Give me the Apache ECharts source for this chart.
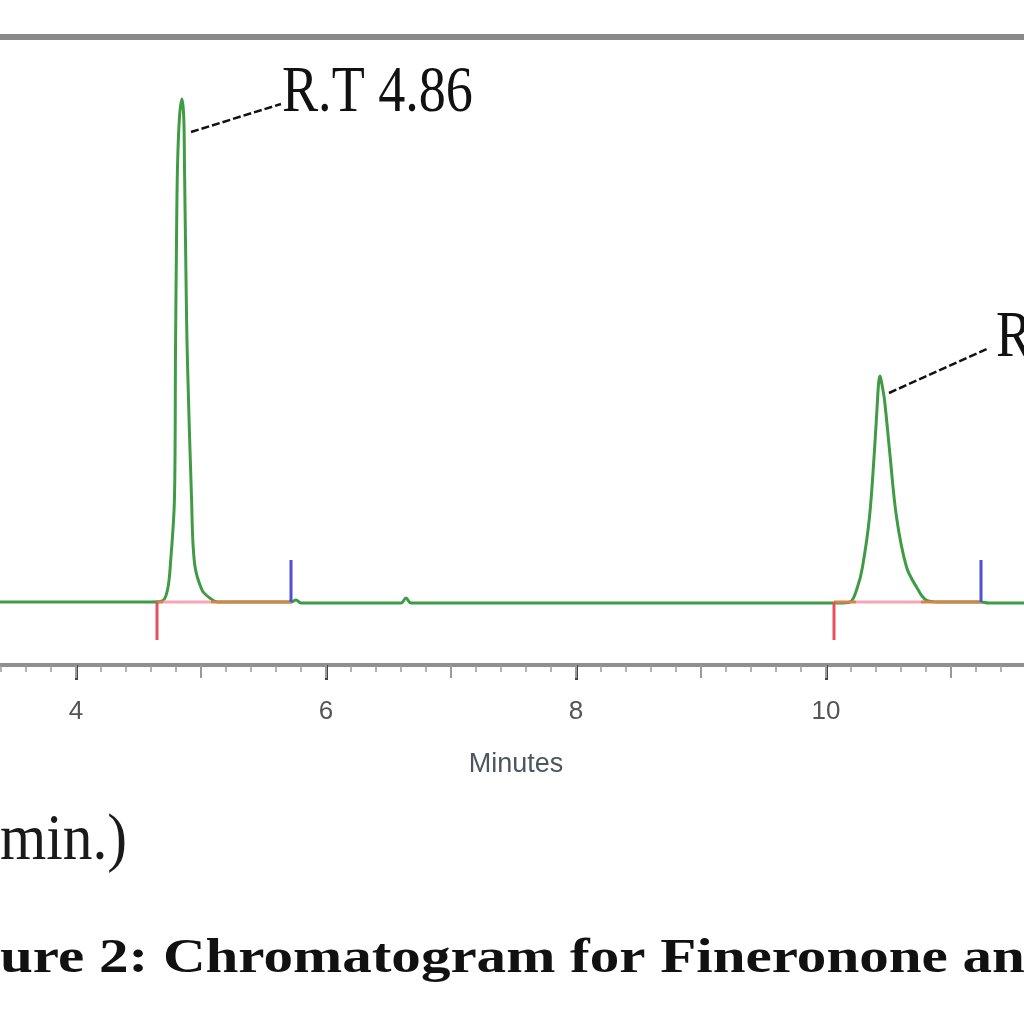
<!DOCTYPE html>
<html>
<head>
<meta charset="utf-8">
<script src="https://cdn.jsdelivr.net/npm/echarts@6/dist/echarts.min.js"></script>
<style>
  html, body { margin: 0; padding: 0; background: #fff; }
  #chart { width: 1024px; height: 1024px; }
</style>
</head>
<body>
<div id="chart"></div>
<script>
// detector trace (time in minutes, signal in arbitrary units)
const traceTime = [3.30, 4.60, 4.690, 4.732, 4.756, 4.788, 4.796, 4.804, 4.812, 4.828, 4.848, 4.862, 4.868, 4.884, 4.892, 4.924, 4.948, 5.008, 5.070, 5.136,
  5.720, 5.760, 5.800, 6.600, 6.640, 6.680, 10.100, 10.192, 10.252, 10.292, 10.348, 10.388, 10.412, 10.422, 10.432, 10.444, 10.468, 10.508, 10.564, 10.644,
  10.724, 10.800, 10.900, 11.240, 11.300, 12.00];
const traceSignal = [0, 0, 0.2, 2.4, 7.8, 21, 50, 72, 87, 97, 100.6, 97, 87, 57.8, 47.8, 21, 7.8, 2.4, 0.8, 0,
  0, 0.4, -0.2, -0.2, 0.8, -0.2, -0.2, 0, 3, 7, 17, 30.4, 40.4, 44, 45.2, 44, 40.4, 30.4, 17, 7,
  3, 0.4, 0, 0, -0.2, -0.2];

// integration events for the two peaks
const eventStart = [4.648, 10.064];
const pinkStart = [4.70, 10.24];
const pinkEnd = [5.08, 10.76];
const eventEnd = [5.72, 11.24];

// retention time annotations
const rtText = ['R.T 4.86', 'R.T 10.43'];
const rtLeaderTime = [[4.92, 5.64], [10.504, 11.304]];
const rtLeaderSignal = [[94, 99.6], [41.8, 50.8]];
const rtLabelTime = [5.648, 11.36];
const rtLabelSignal = [101.6, 52.6];

const xTicks = { min: 2, max: 12, interval: 2 };

const chart = echarts.init(document.getElementById('chart'));

const traceData = traceTime.map((t, i) => [t, traceSignal[i]]);

const orangeData = [];
const pinkData = [];
const startTicks = [];
const endTicks = [];
eventStart.forEach((s, i) => {
  orangeData.push([s, 0], [pinkStart[i], 0], [null, null], [pinkEnd[i], 0], [eventEnd[i], 0], [null, null]);
  pinkData.push([pinkStart[i], 0], [pinkEnd[i], 0], [null, null]);
  startTicks.push([s, 0], [s, -7.6], [null, null]);
  endTicks.push([eventEnd[i], 0], [eventEnd[i], 8.4], [null, null]);
});

const leaderSeries = rtLeaderTime.map((times, i) => ({
  type: 'line',
  data: times.map((t, j) => [t, rtLeaderSignal[i][j]]),
  showSymbol: false,
  silent: true,
  z: 5,
  lineStyle: { color: '#111', width: 2.5, type: [8, 3] }
}));

const option = {
  animation: false,
  backgroundColor: '#fff',
  grid: { left: -174, right: -52, top: 37, bottom: 359, containLabel: false, outerBoundsMode: 'none' },
  xAxis: [
    {
      type: 'value', position: 'bottom', ...xTicks,
      axisLine: { onZero: false, lineStyle: { color: '#8f8f8f', width: 4 } },
      axisTick: { length: 15, lineStyle: { color: '#444', width: 3 } },
      minorTick: { show: true, splitNumber: 10, length: 7, lineStyle: { color: '#9a9a9a', width: 1.5 } },
      axisLabel: { margin: 34, fontSize: 26, color: '#555', fontFamily: 'Liberation Sans' },
      splitLine: { show: false }
    },
    {
      type: 'value', position: 'bottom', min: 2, max: 12, interval: 1,
      axisLine: { show: false, onZero: false },
      axisTick: { length: 13, lineStyle: { color: '#9a9a9a', width: 2 } },
      axisLabel: { show: false },
      splitLine: { show: false }
    },
    {
      type: 'value', position: 'top', min: 2, max: 12,
      axisLine: { onZero: false, lineStyle: { color: '#8a8a8a', width: 6 } },
      axisTick: { show: false },
      axisLabel: { show: false },
      splitLine: { show: false }
    }
  ],
  yAxis: { type: 'value', min: -12.6, max: 113, show: false },
  series: [
    {
      type: 'line', name: 'trace', data: traceData,
      showSymbol: false, smooth: 0.35,
      lineStyle: { color: '#3f9c45', width: 3 }, z: 2
    },
    {
      type: 'line', data: orangeData, showSymbol: false,
      lineStyle: { color: '#d8824c', width: 3 }, z: 3
    },
    {
      type: 'line', data: pinkData, showSymbol: false,
      lineStyle: { color: '#f6a7b6', width: 3 }, z: 3
    },
    {
      type: 'line', data: startTicks, showSymbol: false,
      lineStyle: { color: '#e4505c', width: 3 }, z: 4
    },
    {
      type: 'line', data: endTicks, showSymbol: false,
      lineStyle: { color: '#4f4fd8', width: 3 }, z: 4
    },
    ...leaderSeries
  ]
};

chart.setOption(option);

// texts: annotations sit on data coords, the rest is page text around the figure
const rtGraphics = rtText.map((text, i) => {
  const p = chart.convertToPixel({ gridIndex: 0 }, [rtLabelTime[i], rtLabelSignal[i]]);
  return {
    type: 'text', x: p[0], y: p[1], scaleX: 0.82,
    style: { text, fontSize: 66, fontFamily: 'Liberation Serif', fill: '#111', align: 'left', verticalAlign: 'middle' }
  };
});

chart.setOption({
  graphic: [
    ...rtGraphics,
    {
      type: 'text', x: 516, y: 765,
      style: { text: 'Minutes', fontSize: 27, fontFamily: 'Liberation Sans', fill: '#4d5660', align: 'center', verticalAlign: 'middle' }
    },
    {
      type: 'text', x: 0, y: 842, scaleX: 0.9,
      style: { text: 'min.)', fontSize: 66, fontFamily: 'Liberation Serif', fill: '#1a1a1a', align: 'left', verticalAlign: 'middle' }
    },
    {
      type: 'text', x: 0, y: 960, scaleX: 1.23,
      style: { text: 'ure 2: Chromatogram for Fineronone an', fontSize: 48, fontWeight: 'bold', fontFamily: 'Liberation Serif', fill: '#111', align: 'left', verticalAlign: 'middle' }
    }
  ]
});
</script>
</body>
</html>
